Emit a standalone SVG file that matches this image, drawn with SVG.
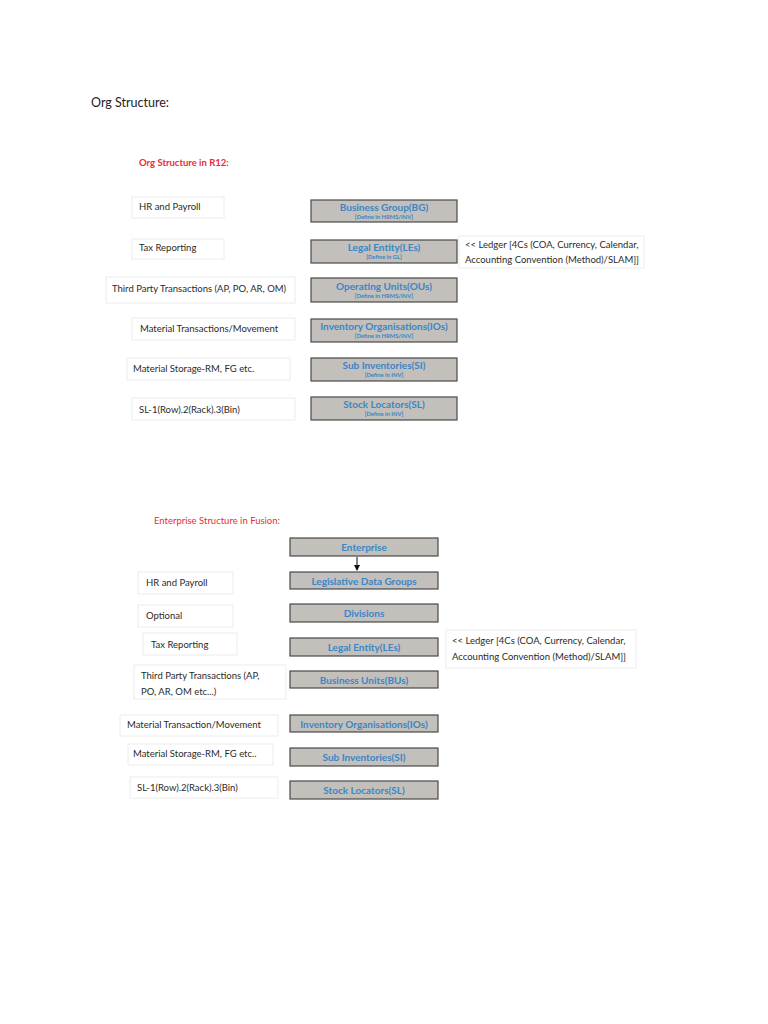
<svg xmlns="http://www.w3.org/2000/svg" width="768" height="1024" viewBox="0 0 768 1024">
<style>
text{font-family:Lato,"Open Sans","Liberation Sans",sans-serif;}
.h{font-size:12.5px;fill:#222;}
.t{font-size:9.5px;fill:#2a2a2a;}
.red{font-size:9.5px;fill:#ec2a35;}
.lb{fill:#fff;stroke:#ececec;stroke-width:1;}
.gb{fill:#c3bfba;stroke:#4a4a4a;stroke-width:1.2;}
.bt{font-size:10px;font-weight:bold;fill:#3a86c8;text-anchor:middle;}
.st{font-size:5.8px;font-weight:bold;fill:#3a86c8;text-anchor:middle;}
.cn{stroke:#111;stroke-width:1;fill:none;}
</style>
<defs>
<marker id="ah" markerWidth="6" markerHeight="6" refX="5" refY="3" orient="auto" markerUnits="userSpaceOnUse"><path d="M0,0 L6,3 L0,6 z" fill="#111"/></marker>
</defs>
<rect width="768" height="1024" fill="#fff"/>
<text class="h" x="91" y="107">Org Structure:</text>

<!-- R12 -->
<text class="red" x="139" y="166" font-weight="bold">Org Structure in R12:</text>

<g id="r12-hr"><rect class="lb" x="132" y="197" width="92" height="21"/><text class="t" x="139" y="210">HR and Payroll</text></g>
<g id="r12-tax"><rect class="lb" x="132" y="239" width="92" height="20"/><text class="t" x="139" y="251">Tax Reporting</text></g>
<g id="r12-tp"><rect class="lb" x="106" y="277" width="189" height="26"/><text class="t" x="112" y="292">Third Party Transactions (AP, PO, AR, OM)</text></g>
<g id="r12-mt"><rect class="lb" x="132" y="318" width="163" height="22"/><text class="t" x="140" y="332">Material Transactions/Movement</text></g>
<g id="r12-ms"><rect class="lb" x="127" y="358" width="163" height="22"/><text class="t" x="133" y="372">Material Storage-RM, FG etc.</text></g>
<g id="r12-sl1"><rect class="lb" x="132" y="398" width="163" height="22"/><text class="t" x="139" y="413">SL-1(Row).2(Rack).3(Bin)</text></g>

<g id="r12-bg"><rect class="gb" x="311" y="200" width="146" height="22"/><text class="bt" x="384" y="211">Business Group(BG)</text><text class="st" x="384" y="219">[Define in HRMS/INV]</text></g>
<g id="r12-le"><rect class="gb" x="311" y="240" width="146" height="23"/><text class="bt" x="384" y="251">Legal Entity(LEs)</text><text class="st" x="384" y="259">[Define in GL]</text></g>
<g id="r12-ou"><rect class="gb" x="311" y="278" width="146" height="24"/><text class="bt" x="384" y="290">Operating Units(OUs)</text><text class="st" x="384" y="298">[Define in HRMS/INV]</text></g>
<g id="r12-io"><rect class="gb" x="311" y="319" width="146" height="23"/><text class="bt" x="384" y="330">Inventory Organisations(IOs)</text><text class="st" x="384" y="338">[Define in HRMS/INV]</text></g>
<g id="r12-si"><rect class="gb" x="311" y="358" width="146" height="23"/><text class="bt" x="384" y="369">Sub Inventories(SI)</text><text class="st" x="384" y="377">[Define in INV]</text></g>
<g id="r12-sl"><rect class="gb" x="311" y="397" width="146" height="23"/><text class="bt" x="384" y="408">Stock Locators(SL)</text><text class="st" x="384" y="416">[Define in INV]</text></g>

<g id="r12-ledger"><rect class="lb" x="459" y="236" width="185" height="32"/><text class="t" x="465" y="248">&lt;&lt; Ledger [4Cs (COA, Currency, Calendar,</text><text class="t" x="465" y="263">Accounting Convention (Method)/SLAM]]</text></g>

<!-- Fusion -->
<text class="red" x="154" y="524">Enterprise Structure in Fusion:</text>

<g id="f-hr"><rect class="lb" x="138" y="572" width="95" height="22"/><text class="t" x="146" y="586">HR and Payroll</text></g>
<g id="f-opt"><rect class="lb" x="138" y="605" width="95" height="22"/><text class="t" x="146" y="619">Optional</text></g>
<g id="f-tax"><rect class="lb" x="143" y="633" width="94" height="22"/><text class="t" x="151" y="648">Tax Reporting</text></g>
<g id="f-tp"><rect class="lb" x="134" y="665" width="152" height="34"/><text class="t" x="141" y="679">Third Party Transactions (AP,</text><text class="t" x="141" y="695">PO, AR, OM etc...)</text></g>
<g id="f-mt"><rect class="lb" x="120" y="715" width="158" height="21"/><text class="t" x="127" y="728">Material Transaction/Movement</text></g>
<g id="f-ms"><rect class="lb" x="128" y="744" width="145" height="21"/><text class="t" x="133" y="757">Material Storage-RM, FG etc..</text></g>
<g id="f-sl1"><rect class="lb" x="130" y="777" width="148" height="21"/><text class="t" x="137" y="791">SL-1(Row).2(Rack).3(Bin)</text></g>

<g id="f-ent"><rect class="gb" x="290" y="538" width="148" height="18"/><text class="bt" x="364" y="551">Enterprise</text></g>
<g id="f-ldg"><rect class="gb" x="290" y="572" width="148" height="17"/><text class="bt" x="364" y="584.5">Legislative Data Groups</text></g>
<g id="f-div"><rect class="gb" x="290" y="604" width="148" height="18"/><text class="bt" x="364" y="617">Divisions</text></g>
<g id="f-le"><rect class="gb" x="290" y="638" width="148" height="18"/><text class="bt" x="364" y="651">Legal Entity(LEs)</text></g>
<g id="f-bu"><rect class="gb" x="290" y="671" width="148" height="17"/><text class="bt" x="364" y="683.5">Business Units(BUs)</text></g>
<g id="f-io"><rect class="gb" x="290" y="715" width="148" height="17"/><text class="bt" x="364" y="727.5">Inventory Organisations(IOs)</text></g>
<g id="f-si"><rect class="gb" x="290" y="748" width="148" height="18"/><text class="bt" x="364" y="761">Sub Inventories(SI)</text></g>
<g id="f-sl"><rect class="gb" x="290" y="781" width="148" height="18"/><text class="bt" x="364" y="794">Stock Locators(SL)</text></g>

<g id="f-ledger"><rect class="lb" x="446" y="630" width="190" height="38"/><text class="t" x="452" y="644">&lt;&lt; Ledger [4Cs (COA, Currency, Calendar,</text><text class="t" x="452" y="660">Accounting Convention (Method)/SLAM]]</text></g>

<g id="connectors">
<line class="cn" x1="357" y1="557" x2="357" y2="570" marker-end="url(#ah)"/>
</g>
</svg>
